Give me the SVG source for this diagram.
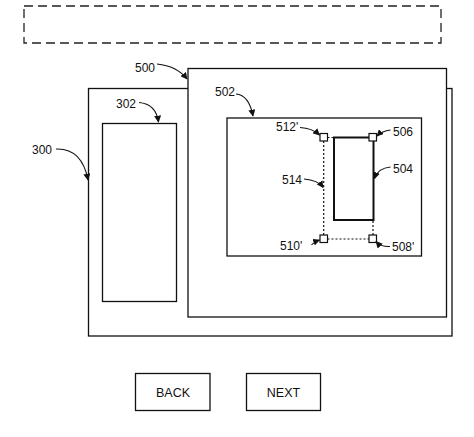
<svg xmlns="http://www.w3.org/2000/svg" width="474" height="437" viewBox="0 0 474 437">
<style>
.box{fill:none;stroke:#111;stroke-width:1.3}
.thick{fill:none;stroke:#111;stroke-width:2}
.dash{fill:none;stroke:#222;stroke-width:1.3;stroke-dasharray:9,5}
.dot{fill:none;stroke:#111;stroke-width:1.2;stroke-dasharray:2,2}
.hd{fill:#fff;stroke:#111;stroke-width:1.2}
.lbl{font-family:"Liberation Sans",Arial,sans-serif;font-size:12px;fill:#111}
.btn{font-family:"Liberation Sans",Arial,sans-serif;font-size:12.5px;fill:#111;text-anchor:middle}
.ar{fill:none;stroke:#111;stroke-width:1.1;marker-end:url(#ah)}
</style>
<defs>
<marker id="ah" viewBox="0 0 10 10" refX="9" refY="5" markerWidth="7" markerHeight="7" orient="auto" markerUnits="userSpaceOnUse">
<path d="M0,0 L10,5 L0,10 Z" fill="#111"/>
</marker>
</defs>
<rect width="474" height="437" fill="#fff"/>
<g id="dashed-bar"><rect class="dash" x="24" y="6" width="417" height="37"/></g>
<g id="n300"><rect class="box" x="88.5" y="88.5" width="363.5" height="247.5"/><text class="lbl" x="32" y="154">300</text></g>
<g id="n302"><rect class="box" x="102.5" y="123.5" width="74" height="178"/><text class="lbl" x="116" y="108">302</text></g>
<g id="n500"><rect fill="#fff" stroke="#111" stroke-width="1.3" x="188" y="68.5" width="258.5" height="248.5"/><text class="lbl" x="135" y="72">500</text></g>
<g id="n502"><rect class="box" x="227" y="118" width="194.5" height="138"/><text class="lbl" x="215" y="96">502</text></g>
<g id="n504"><rect class="thick" x="334" y="137.5" width="39.5" height="82.5"/><text class="lbl" x="393" y="172.5">504</text></g>
<g id="n514"><path class="dot" d="M323.7,141 V235 M327.5,239 H369 M373,221 V235 M327.5,137.5 H333"/><text class="lbl" x="282" y="184">514</text></g>
<g id="n512"><rect class="hd" x="320" y="133.5" width="7.5" height="7.5"/><text class="lbl" x="276" y="131">512'</text></g>
<g id="n506"><rect class="hd" x="369" y="133.5" width="7.5" height="7.5"/><text class="lbl" x="393" y="136">506</text></g>
<g id="n510"><rect class="hd" x="320" y="235" width="7.5" height="7.5"/><text class="lbl" x="280" y="250">510'</text></g>
<g id="n508"><rect class="hd" x="369" y="235" width="7.5" height="7.5"/><text class="lbl" x="392" y="251">508'</text></g>
<g id="back"><rect class="box" x="135.5" y="373.5" width="74.5" height="37"/><text class="btn" x="173" y="396.5">BACK</text></g>
<g id="next"><rect class="box" x="246.5" y="373.5" width="74" height="37"/><text class="btn" x="283.5" y="396.5">NEXT</text></g>
<g id="connectors">
<path class="ar" d="M157,64 Q177,66 187,79"/>
<path class="ar" d="M139,102.5 Q156,104 158.5,122"/>
<path class="ar" d="M56,149 Q82,148 88,180"/>
<path class="ar" d="M236,94 Q249,95 253,116"/>
<path class="ar" d="M300,127.5 Q312,128 319.5,135"/>
<path class="ar" d="M390.5,130 Q382,131 377,136"/>
<path class="ar" d="M390.5,167 Q378,168 374.5,178.5"/>
<path class="ar" d="M304,179 Q318,180 323,187.5"/>
<path class="ar" d="M311.5,245 Q314,242 319.5,240"/>
<path class="ar" d="M390,246.5 Q381,247 376,241.5"/>
</g>
</svg>
